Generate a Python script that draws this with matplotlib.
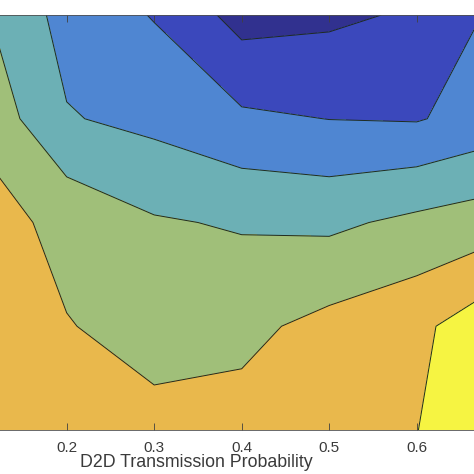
import numpy as np
import matplotlib.pyplot as plt

# grid of the surface (x = D2D transmission probability, y = unlabelled axis)
x_vals = [0.1, 0.2, 0.3, 0.4, 0.5, 0.6, 0.7]
y_vals = [1, 2, 3, 4, 5]

# rows from bottom (y=1) to top (y=5)
z_row1 = [5.60, 5.50, 5.23, 5.36, 5.60, 5.98, 7.00]
z_row2 = [5.60, 5.04, 4.70, 4.75, 5.30, 5.72, 6.99]
z_row3 = [5.43, 4.73, 4.10, 3.90, 3.80, 4.24, 4.60]
z_row4 = [4.81, 3.07, 2.73, 2.178, 1.986, 1.93, 2.51]
z_row5 = [4.19, 2.64, 1.943, 0.628, 0.808, 1.13, 2.30]

levels = [0, 1, 2, 3, 4, 5, 6, 8]
band_colors = ['#31318f', '#3b48bc', '#4f86d2', '#6cb0b5',
               '#a0bf79', '#e9b84c', '#f6f442']

tick_vals = [0.2, 0.3, 0.4, 0.5, 0.6]
tick_labels = ['0.2', '0.3', '0.4', '0.5', '0.6']

X, Y = np.meshgrid(x_vals, y_vals)
Z = np.array([z_row1, z_row2, z_row3, z_row4, z_row5])

plt.rcParams['font.family'] = ['Liberation Sans', 'DejaVu Sans']

fig = plt.figure(figsize=(4.74, 4.74), dpi=100)
ax = fig.add_axes([-20.8 / 474, 1 - 430 / 474, 525 / 474, 415 / 474])

ax.contourf(X, Y, Z, levels=levels, colors=band_colors)
ax.contour(X, Y, Z, levels=levels[1:-1], colors='#1e2a20', linewidths=0.7)

ax.set_xlim(0.1, 0.7)
ax.set_ylim(1, 5)
ax.set_xticks(tick_vals)
ax.set_xticklabels(tick_labels)
ax.set_yticks([])
ax.tick_params(axis='x', direction='in', length=5, width=0.6, top=True,
               labelsize=11, labelcolor='#3a3a3a', color='#404040', pad=8)
for s in ax.spines.values():
    s.set_linewidth(0.6)
    s.set_color('#505050')

ax.set_xlabel('D2D Transmission Probability', fontsize=12.8, color='#3a3a3a')
ax.xaxis.set_label_coords((196.5 + 20.8) / 525, -24 / 415)

fig.savefig('out.png', dpi=100)
